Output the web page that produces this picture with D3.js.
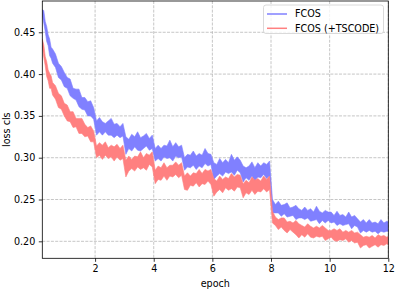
<!DOCTYPE html>
<html>
<head>
<meta charset="utf-8">
<script src="https://cdn.jsdelivr.net/npm/d3@7"></script>
<style>
  body { margin: 0; background: white; }
  text { font-family: "DejaVu Sans", sans-serif; fill: black; }
</style>
</head>
<body>
<svg id="canvas" width="416" height="290"></svg>
<script>
// epoch positions of the samples
let epochs = [
  0.2, 0.25, 0.3, 0.35, 0.4, 0.45, 0.5, 0.55, 0.65, 0.75, 0.85, 0.95,
  1.05, 1.15, 1.25, 1.35, 1.45, 1.55, 1.65, 1.75, 1.85, 1.95,
  2.05, 2.15, 2.25, 2.35, 2.45, 2.55, 2.65, 2.75, 2.85, 2.95,
  3.05, 3.15, 3.25, 3.35, 3.45, 3.55, 3.65, 3.75, 3.85, 3.95,
  4.05, 4.15, 4.25, 4.35, 4.45, 4.55, 4.65, 4.75, 4.85, 4.95,
  5.05, 5.15, 5.25, 5.35, 5.45, 5.55, 5.65, 5.75, 5.85, 5.95,
  6.05, 6.15, 6.25, 6.35, 6.45, 6.55, 6.65, 6.75, 6.85, 6.95,
  7.05, 7.15, 7.25, 7.35, 7.45, 7.55, 7.65, 7.75, 7.85, 7.95,
  8.05, 8.15, 8.25, 8.35, 8.45, 8.55, 8.65, 8.75, 8.85, 8.95,
  9.05, 9.15, 9.25, 9.35, 9.45, 9.55, 9.65, 9.75, 9.85, 9.95,
  10.05, 10.15, 10.25, 10.35, 10.45, 10.55, 10.65, 10.75, 10.85, 10.95,
  11.05, 11.15, 11.25, 11.35, 11.45, 11.55, 11.65, 11.75, 11.85, 11.95,
  12.0
];

// FCOS loss (middle of the noisy band)
let fcosMid = [
  0.474, 0.468, 0.457, 0.448, 0.440, 0.432, 0.426, 0.421, 0.413, 0.406, 0.400, 0.394,
  0.389, 0.384, 0.378, 0.374, 0.370, 0.366, 0.363, 0.360, 0.357, 0.354,
  0.338, 0.337, 0.336, 0.336, 0.335, 0.334, 0.334, 0.333, 0.332, 0.331,
  0.316, 0.317, 0.317, 0.318, 0.317, 0.318, 0.318, 0.319, 0.318, 0.318,
  0.305, 0.305, 0.306, 0.306, 0.307, 0.306, 0.307, 0.307, 0.308, 0.307,
  0.295, 0.295, 0.296, 0.296, 0.297, 0.297, 0.297, 0.298, 0.298, 0.298,
  0.286, 0.287, 0.288, 0.288, 0.289, 0.289, 0.290, 0.290, 0.291, 0.291,
  0.281, 0.282, 0.282, 0.283, 0.283, 0.284, 0.284, 0.285, 0.285, 0.285,
  0.243, 0.240, 0.239, 0.238, 0.237, 0.236, 0.236, 0.235, 0.234, 0.234,
  0.233, 0.233, 0.232, 0.232, 0.231, 0.231, 0.230, 0.230, 0.229, 0.229,
  0.228, 0.227, 0.227, 0.226, 0.226, 0.225, 0.225, 0.224, 0.224, 0.223,
  0.218, 0.218, 0.218, 0.217, 0.217, 0.217, 0.217, 0.216, 0.217, 0.217,
  0.217
];
// how far the noise reaches above / below (in 0.001)
let fcosUp = [
  3, 8, 6, 9, 7, 10, 6, 9, 11, 7, 9, 8,
  7, 10, 5, 8, 12, 6, 9, 7, 11, 6,
  6, 11, 7, 5, 9, 13, 6, 8, 5, 10,
  9, 5, 11, 7, 14, 6, 8, 10, 5, 9,
  6, 10, 5, 9, 7, 15, 6, 11, 5, 8,
  5, 9, 7, 12, 5, 8, 6, 13, 7, 6,
  8, 5, 11, 6, 9, 5, 14, 7, 10, 6,
  9, 6, 8, 12, 5, 10, 6, 9, 7, 11,
  7, 4, 9, 5, 7, 10, 4, 6, 9, 5,
  4, 8, 5, 7, 4, 11, 6, 4, 8, 6,
  7, 4, 9, 5, 6, 4, 10, 5, 7, 4,
  5, 8, 4, 9, 5, 6, 4, 10, 5, 7,
  6
];
let fcosDn = [
  4, 7, 6, 9, 6, 10, 7, 8, 5, 10, 7, 9,
  6, 10, 7, 5, 9, 8, 6, 10, 7, 8,
  11, 6, 9, 5, 8, 7, 10, 6, 8, 5,
  12, 6, 9, 5, 8, 10, 7, 5, 9, 7,
  9, 6, 10, 5, 8, 6, 11, 5, 8, 6,
  10, 6, 8, 5, 11, 7, 9, 5, 8, 6,
  12, 9, 7, 10, 6, 8, 7, 11, 6, 9,
  10, 6, 9, 5, 11, 7, 8, 5, 10, 7,
  9, 6, 5, 8, 4, 7, 6, 4, 8, 6,
  5, 7, 4, 8, 6, 5, 9, 5, 7, 4,
  6, 4, 8, 5, 7, 5, 4, 9, 5, 6,
  8, 5, 7, 4, 6, 5, 8, 4, 6, 5,
  5
];

// FCOS (+TSCODE) loss
let tscodeMid = [
  0.438, 0.428, 0.416, 0.406, 0.399, 0.393, 0.388, 0.384, 0.377, 0.370, 0.364, 0.359,
  0.354, 0.349, 0.345, 0.342, 0.339, 0.336, 0.333, 0.331, 0.329, 0.326,
  0.309, 0.309, 0.308, 0.308, 0.307, 0.307, 0.307, 0.306, 0.306, 0.306,
  0.291, 0.292, 0.293, 0.294, 0.294, 0.295, 0.295, 0.296, 0.297, 0.297,
  0.280, 0.281, 0.282, 0.283, 0.283, 0.284, 0.285, 0.285, 0.286, 0.286,
  0.271, 0.272, 0.273, 0.274, 0.275, 0.275, 0.276, 0.277, 0.277, 0.278,
  0.266, 0.267, 0.268, 0.268, 0.269, 0.270, 0.270, 0.271, 0.271, 0.272,
  0.263, 0.264, 0.265, 0.266, 0.266, 0.267, 0.267, 0.268, 0.268, 0.269,
  0.228, 0.224, 0.222, 0.221, 0.220, 0.219, 0.218, 0.217, 0.216, 0.215,
  0.214, 0.213, 0.213, 0.212, 0.212, 0.211, 0.211, 0.210, 0.210, 0.209,
  0.209, 0.208, 0.208, 0.207, 0.207, 0.207, 0.206, 0.206, 0.206, 0.205,
  0.201, 0.201, 0.200, 0.200, 0.200, 0.200, 0.200, 0.201, 0.201, 0.201,
  0.201
];
let tscodeUp = [
  4, 7, 5, 9, 6, 8, 10, 6, 9, 7, 10, 6,
  9, 6, 10, 5, 8, 11, 7, 5, 9, 6,
  5, 9, 7, 11, 5, 8, 6, 10, 5, 9,
  6, 10, 5, 8, 7, 12, 5, 9, 6, 10,
  5, 9, 6, 11, 5, 7, 6, 10, 5, 8,
  7, 10, 5, 8, 6, 11, 5, 9, 7, 8,
  9, 5, 10, 6, 8, 5, 11, 6, 9, 7,
  6, 9, 5, 11, 7, 8, 5, 10, 6, 9,
  8, 5, 4, 7, 8, 4, 6, 5, 9, 6,
  5, 4, 8, 6, 4, 7, 5, 9, 6, 4,
  4, 7, 5, 8, 4, 6, 5, 7, 4, 6,
  7, 4, 6, 5, 7, 4, 8, 5, 6, 4,
  5
];
let tscodeDn = [
  5, 8, 6, 9, 7, 10, 5, 9, 7, 10, 6, 9,
  10, 6, 9, 5, 10, 7, 8, 5, 10, 7,
  9, 6, 10, 5, 8, 6, 11, 5, 9, 7,
  14, 8, 6, 10, 5, 9, 7, 11, 5, 8,
  11, 7, 9, 5, 10, 6, 8, 5, 10, 7,
  9, 11, 6, 8, 5, 10, 7, 9, 5, 10,
  12, 8, 6, 10, 5, 9, 7, 11, 6, 8,
  11, 6, 9, 5, 10, 7, 8, 5, 9, 7,
  6, 5, 8, 4, 7, 9, 4, 6, 8, 11,
  6, 8, 4, 7, 8, 5, 6, 4, 9, 6,
  4, 7, 8, 5, 6, 4, 7, 5, 8, 6,
  9, 6, 4, 8, 6, 4, 7, 5, 6, 4,
  5
];

let xTicks = [2, 4, 6, 8, 10, 12];
let yTicks = [0.20, 0.25, 0.30, 0.35, 0.40, 0.45];
let seriesNames = ["FCOS", "FCOS (+TSCODE)"];

let canvas = d3.select("#canvas");

// plot box
let plotLeft = 42.3, plotRight = 388.3, plotTop = 1, plotBottom = 258.3;
let fontSize = 9.6;

let xScale = d3.scaleLinear().domain([0.2, 12]).range([plotLeft, plotRight]);
let yScale = d3.scaleLinear().domain([0.1797, 0.4874]).range([plotBottom, plotTop]);

//Builds band rows from the arrays
function makeRows(mid, up, dn) {
  return epochs.map((e, i) => {
    return { e: e, hi: mid[i] + up[i] / 1000, lo: mid[i] - dn[i] / 1000 };
  });
}
let series = [
  { name: seriesNames[0], color: "rgb(128,128,255)", rows: makeRows(fcosMid, fcosUp, fcosDn) },
  { name: seriesNames[1], color: "rgb(255,128,128)", rows: makeRows(tscodeMid, tscodeUp, tscodeDn) }
];

//Grid
let grid = canvas.append("g")
  .attr("stroke", "#b8b8b8")
  .attr("stroke-width", 0.8)
  .attr("stroke-dasharray", "3,1.3");
grid.selectAll(".gx")
  .data(xTicks)
  .join("line")
  .attr("class", "gx")
  .attr("x1", (d) => xScale(d)).attr("x2", (d) => xScale(d))
  .attr("y1", plotTop).attr("y2", plotBottom);
grid.selectAll(".gy")
  .data(yTicks)
  .join("line")
  .attr("class", "gy")
  .attr("x1", plotLeft).attr("x2", plotRight)
  .attr("y1", (d) => yScale(d)).attr("y2", (d) => yScale(d));

//Noisy loss bands
let area = d3.area()
  .x((d) => xScale(d.e))
  .y0((d) => yScale(d.lo))
  .y1((d) => yScale(d.hi));

canvas.append("clipPath").attr("id", "clip")
  .append("rect")
  .attr("x", plotLeft).attr("y", plotTop)
  .attr("width", plotRight - plotLeft).attr("height", plotBottom - plotTop);

canvas.append("g")
  .attr("clip-path", "url(#clip)")
  .selectAll("path")
  .data(series)
  .join("path")
  .attr("d", (d) => area(d.rows))
  .attr("fill", (d) => d.color)
  .attr("stroke", (d) => d.color)
  .attr("stroke-width", 0.6);

//Axes
let xAxis = d3.axisBottom(xScale).tickValues(xTicks).tickSize(3.5).tickPadding(3.5)
  .tickFormat(d3.format("d"));
let yAxis = d3.axisLeft(yScale).tickValues(yTicks).tickSize(3.5).tickPadding(3.5)
  .tickFormat(d3.format(".2f"));

let gx = canvas.append("g")
  .attr("transform", "translate(0," + plotBottom + ")")
  .call(xAxis);
let gy = canvas.append("g")
  .attr("transform", "translate(" + plotLeft + ",0)")
  .call(yAxis);
[gx, gy].forEach((g) => {
  g.select(".domain").remove();
  g.selectAll("line").attr("stroke", "black").attr("stroke-width", 0.8);
  g.selectAll("text")
    .attr("fill", "black")
    .style("font-size", fontSize + "px")
    .style("font-family", "DejaVu Sans");
});

//Frame
canvas.append("rect")
  .attr("x", plotLeft).attr("y", plotTop)
  .attr("width", plotRight - plotLeft).attr("height", plotBottom - plotTop)
  .attr("fill", "none")
  .attr("stroke", "black")
  .attr("stroke-width", 0.8);

//Axis labels
canvas.append("text")
  .attr("x", (plotLeft + plotRight) / 2)
  .attr("y", 287)
  .attr("text-anchor", "middle")
  .style("font-size", fontSize + "px")
  .text("epoch");
canvas.append("text")
  .attr("transform", "translate(9.5," + (plotTop + plotBottom) / 2 + ") rotate(-90)")
  .attr("text-anchor", "middle")
  .style("font-size", fontSize + "px")
  .text("loss cls");

//Legend
let legend = canvas.append("g").attr("transform", "translate(263.5,5)");
legend.append("rect")
  .attr("width", 120).attr("height", 28.5)
  .attr("rx", 2.5)
  .attr("fill", "white").attr("fill-opacity", 0.8)
  .attr("stroke", "#d0d0d0").attr("stroke-width", 0.8);
let items = legend.selectAll(".item")
  .data(series)
  .join("g")
  .attr("class", "item")
  .attr("transform", (d, i) => "translate(0," + (9 + i * 14.3) + ")");
items.append("line")
  .attr("x1", 3.5).attr("x2", 23.5)
  .attr("stroke", (d) => d.color)
  .attr("stroke-width", 1.5);
items.append("text")
  .attr("x", 31.5)
  .attr("y", 3.4)
  .style("font-size", fontSize + "px")
  .text((d) => d.name);
</script>
</body>
</html>
